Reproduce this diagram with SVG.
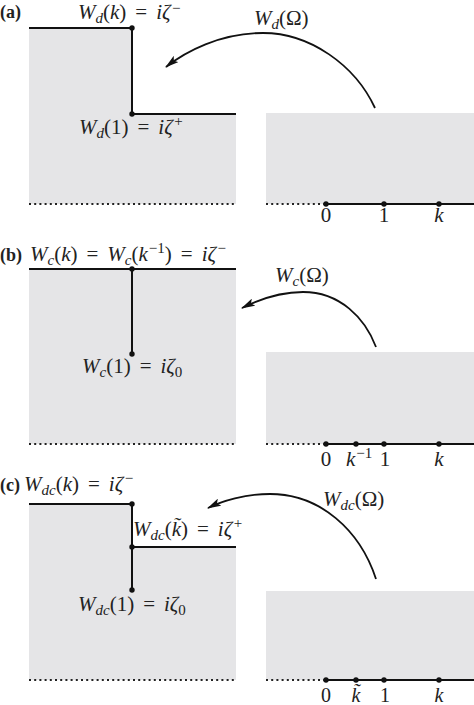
<svg xmlns="http://www.w3.org/2000/svg" width="474" height="705" viewBox="0 0 474 705">
<style>
.reg{fill:#e5e5e7;stroke:none}
.edge{fill:none;stroke:#111;stroke-width:2}
.dot{fill:#111}
.dotted{fill:none;stroke:#222;stroke-width:2;stroke-dasharray:2 3.2}
.arr{fill:none;stroke:#111;stroke-width:1.8;marker-end:url(#ah)}
text{font-family:"Liberation Serif","Times New Roman",serif;font-size:21px;fill:#222}
.i{font-style:italic}
.s{font-size:15px}
.lab{font-weight:bold;font-size:18px}
.mid{text-anchor:middle}
.ax{font-size:20px}
</style>
<defs>
<marker id="ah" viewBox="0 0 14 8" refX="13" refY="4" markerWidth="14" markerHeight="8" markerUnits="userSpaceOnUse" orient="auto">
<path d="M0,0 L14,4 L0,8 L3,4 Z" fill="#111"/>
</marker>
</defs>

<g id="panel-a">
<text class="lab" x="0" y="18">(a)</text>
<g id="a-left">
<path class="reg" d="M29,28 H132 V114 H236 V204 H29 Z"/>
<polyline class="edge" points="29,28 132,28 132,114 236,114"/>
<line class="dotted" x1="29" y1="204" x2="236" y2="204"/>
<circle class="dot" cx="132" cy="28" r="2.7"/>
<circle class="dot" cx="132" cy="114" r="2.7"/>
<text x="78" y="19"><tspan class="i">W</tspan><tspan class="i s" dy="4">d</tspan><tspan dy="-4">(</tspan><tspan class="i">k</tspan>)<tspan dx="9">=</tspan><tspan class="i" dx="9">iζ</tspan><tspan class="s" dx="1.5" dy="-6">−</tspan></text>
<text x="79" y="134"><tspan class="i">W</tspan><tspan class="i s" dy="4">d</tspan><tspan dy="-4">(1)</tspan><tspan dx="9">=</tspan><tspan class="i" dx="9">iζ</tspan><tspan class="s" dx="1.5" dy="-8">+</tspan></text>
</g>
<g id="a-right">
<rect class="reg" x="266" y="113" width="208" height="91"/>
<line class="dotted" x1="266" y1="204" x2="326" y2="204"/>
<line class="edge" x1="326" y1="204" x2="474" y2="204"/>
<circle class="dot" cx="326" cy="204" r="2.7"/>
<circle class="dot" cx="384" cy="204" r="2.7"/>
<circle class="dot" cx="439" cy="204" r="2.7"/>
<text class="mid" x="326" y="222">0</text>
<text class="mid" x="384" y="222">1</text>
<text class="mid i" x="439" y="222">k</text>
</g>
</g>

<g id="panel-b">
<text class="lab" x="0" y="261">(b)</text>
<g id="b-left">
<rect class="reg" x="29" y="269" width="207" height="175"/>
<line class="edge" x1="29" y1="269" x2="236" y2="269"/>
<line class="edge" x1="132" y1="269" x2="132" y2="354"/>
<line class="dotted" x1="29" y1="444" x2="236" y2="444"/>
<circle class="dot" cx="132" cy="269" r="2.7"/>
<circle class="dot" cx="132" cy="354" r="2.7"/>
<text x="30" y="261"><tspan class="i">W</tspan><tspan class="i s" dy="4">c</tspan><tspan dy="-4">(</tspan><tspan class="i">k</tspan>)<tspan dx="9">=</tspan><tspan class="i" dx="9">W</tspan><tspan class="i s" dy="4">c</tspan><tspan dy="-4">(</tspan><tspan class="i">k</tspan><tspan class="s" dx="1" dy="-8">−1</tspan><tspan dy="8">)</tspan><tspan dx="9">=</tspan><tspan class="i" dx="9">iζ</tspan><tspan class="s" dx="1.5" dy="-8">−</tspan></text>
<text x="82" y="373"><tspan class="i">W</tspan><tspan class="i s" dy="4">c</tspan><tspan dy="-4">(1)</tspan><tspan dx="9">=</tspan><tspan class="i" dx="9">iζ</tspan><tspan class="s" dy="4">0</tspan></text>
</g>
<g id="b-right">
<rect class="reg" x="266" y="352" width="208" height="92"/>
<line class="dotted" x1="266" y1="444" x2="326" y2="444"/>
<line class="edge" x1="326" y1="444" x2="474" y2="444"/>
<circle class="dot" cx="326" cy="444" r="2.7"/>
<circle class="dot" cx="356" cy="444" r="2.7"/>
<circle class="dot" cx="384" cy="444" r="2.7"/>
<circle class="dot" cx="439" cy="444" r="2.7"/>
<text class="mid" x="326" y="466">0</text>
<text x="346" y="466"><tspan class="i">k</tspan><tspan class="s" dx="1" dy="-8">−1</tspan></text>
<text class="mid" x="385" y="466">1</text>
<text class="mid i" x="439" y="466">k</text>
</g>
</g>

<g id="panel-c">
<text class="lab" x="0" y="491">(c)</text>
<g id="c-left">
<path class="reg" d="M29,504 H132 V547 H236 V680 H29 Z"/>
<polyline class="edge" points="29,504 132,504 132,590"/>
<line class="edge" x1="132" y1="547" x2="236" y2="547"/>
<line class="dotted" x1="29" y1="680" x2="236" y2="680"/>
<circle class="dot" cx="132" cy="504" r="2.7"/>
<circle class="dot" cx="132" cy="547" r="2.7"/>
<circle class="dot" cx="132" cy="590" r="2.7"/>
<text x="24" y="491"><tspan class="i">W</tspan><tspan class="i s" dy="4">dc</tspan><tspan dy="-4">(</tspan><tspan class="i">k</tspan>)<tspan dx="9">=</tspan><tspan class="i" dx="9">iζ</tspan><tspan class="s" dx="1.5" dy="-8">−</tspan></text>
<text x="133" y="536"><tspan class="i">W</tspan><tspan class="i s" dy="4">dc</tspan><tspan dy="-4">(</tspan><tspan class="i">k̃</tspan>)<tspan dx="9">=</tspan><tspan class="i" dx="9">iζ</tspan><tspan class="s" dx="1.5" dy="-8">+</tspan></text>
<text x="78" y="611"><tspan class="i">W</tspan><tspan class="i s" dy="4">dc</tspan><tspan dy="-4">(1)</tspan><tspan dx="9">=</tspan><tspan class="i" dx="9">iζ</tspan><tspan class="s" dy="4">0</tspan></text>
</g>
<g id="c-right">
<rect class="reg" x="266" y="591" width="208" height="89"/>
<line class="dotted" x1="266" y1="680" x2="326" y2="680"/>
<line class="edge" x1="326" y1="680" x2="474" y2="680"/>
<circle class="dot" cx="326" cy="680" r="2.7"/>
<circle class="dot" cx="356" cy="680" r="2.7"/>
<circle class="dot" cx="384" cy="680" r="2.7"/>
<circle class="dot" cx="439" cy="680" r="2.7"/>
<text class="mid ax" x="326" y="702">0</text>
<text class="mid i ax" x="356" y="702">k̃</text>
<text class="mid ax" x="385" y="702">1</text>
<text class="mid i ax" x="439" y="702">k</text>
</g>
</g>

<g id="connectors">
<path class="arr" d="M375,108 C355,65 310,33 263,33 C220,33 185,52 166,67"/>
<text x="254" y="25"><tspan class="i">W</tspan><tspan class="i s" dy="4">d</tspan><tspan dy="-4">(Ω)</tspan></text>
<path class="arr" d="M376,347 C365,318 340,292 303,292 C280,292 258,300 242,308"/>
<text x="275" y="282"><tspan class="i">W</tspan><tspan class="i s" dy="4">c</tspan><tspan dy="-4">(Ω)</tspan></text>
<path class="arr" d="M376,579 C360,530 320,494 270,494 C245,494 222,501 208,508"/>
<text x="323" y="506"><tspan class="i">W</tspan><tspan class="i s" dy="4">dc</tspan><tspan dy="-4">(Ω)</tspan></text>
</g>
</svg>
